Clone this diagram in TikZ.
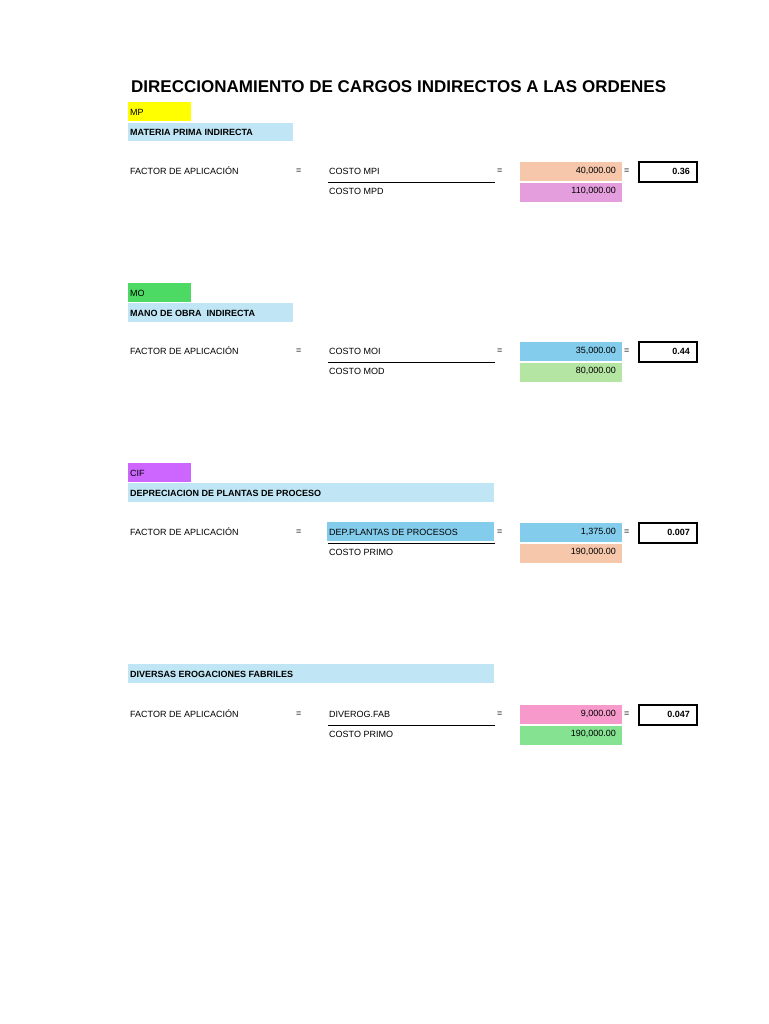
\documentclass[tikz,border=0pt]{standalone}
\usepackage{fontspec}
\setmainfont{Liberation Sans}
\definecolor{cyel}{HTML}{FFFF00}
\definecolor{cgrn}{HTML}{4CD964}
\definecolor{cpur}{HTML}{CC66FF}
\definecolor{chead}{HTML}{C0E6F5}
\definecolor{csal}{HTML}{F7C7AC}
\definecolor{cplum}{HTML}{E49EDD}
\definecolor{cblue}{HTML}{83CCEB}
\definecolor{clgrn}{HTML}{B4E5A2}
\definecolor{cpink}{HTML}{F79ACB}
\definecolor{cgrn2}{HTML}{84E291}
\tikzset{x=1pt,y=-1pt,
 txt/.style={anchor=west,inner sep=0pt,font=\fontsize{9}{10}\selectfont},
 btxt/.style={txt,font=\fontsize{9}{10}\selectfont\bfseries},
 val/.style={anchor=east,inner sep=0pt,font=\fontsize{9}{10}\selectfont},
 res/.style={draw,line width=1.5pt,minimum width=58pt,minimum height=20pt,inner sep=0pt}}
\newcommand\sect[9]{%
 % #1 y offset, #2 numerator label, #3 num color, #4 num value, #5 den label, #6 den color, #7 den value, #8 result, #9 name
 \fill[#3] (520,#1-9) rectangle (622,#1+10);
 \fill[#6] (520,#1+12) rectangle (622,#1+31);
 \node[txt] (#9fa) at (130,#1) {FACTOR DE APLICACIÓN};
 \node[txt] (#9e1) at (296,#1) {=};
 \node[txt] (#9n) at (329,#1) {#2};
 \coordinate (#9l1) at (328,#1+11); \coordinate (#9l2) at (495,#1+11);
 \draw[line width=0.6pt] (#9l1) -- (#9l2);
 \node[txt] (#9e2) at (497,#1) {=};
 \node[val] (#9nv) at (616,#1) {#4};
 \node[txt] (#9e3) at (624,#1) {=};
 \node[res] (#9r) at (668,#1+1) {};
 \node[val,font=\fontsize{9}{10}\selectfont\bfseries] at (690,#1) {#8};
 \node[txt] (#9d) at (329,#1+20) {#5};
 \node[val] (#9dv) at (616,#1+20) {#7};
}
\begin{document}
\begin{tikzpicture}
\useasboundingbox[fill=white] (0,0) rectangle (768,1024);
\begin{scope}
\clip (0,60) rectangle (698,110);
\node[anchor=west,inner sep=0pt,font=\fontsize{17}{20}\selectfont\bfseries] (title) at (131,87) {DIRECCIONAMIENTO DE CARGOS INDIRECTOS A LAS ORDENES};
\end{scope}
% MP
\fill[cyel] (128,102) rectangle (191,121);
\node[txt] (mp) at (130,112) {MP};
\fill[chead] (128,123) rectangle (293,141);
\node[btxt] (mph) at (130,132) {MATERIA PRIMA INDIRECTA};
\sect{171}{COSTO MPI}{csal}{40,000.00}{COSTO MPD}{cplum}{110,000.00}{0.36}{a}
% MO
\fill[cgrn] (128,283) rectangle (191,302);
\node[txt] (mo) at (130,293) {MO};
\fill[chead] (128,303) rectangle (293,322);
\node[btxt] (moh) at (130,313) {MANO DE OBRA\ \ INDIRECTA};
\sect{351}{COSTO MOI}{cblue}{35,000.00}{COSTO MOD}{clgrn}{80,000.00}{0.44}{b}
% CIF
\fill[cpur] (128,463) rectangle (191,482);
\node[txt] (cif) at (130,473) {CIF};
\fill[chead] (128,483) rectangle (494,502);
\node[btxt] (cifh) at (130,493) {DEPRECIACION DE PLANTAS DE PROCESO};
\fill[cblue] (327,522) rectangle (494,541);
\sect{532}{DEP.PLANTAS DE PROCESOS}{cblue}{1,375.00}{COSTO PRIMO}{csal}{190,000.00}{0.007}{c}
% DEF
\fill[chead] (128,664) rectangle (494,683);
\node[btxt] (defh) at (130,674) {DIVERSAS EROGACIONES FABRILES};
\sect{714}{DIVEROG.FAB}{cpink}{9,000.00}{COSTO PRIMO}{cgrn2}{190,000.00}{0.047}{d}
\end{tikzpicture}
\end{document}
